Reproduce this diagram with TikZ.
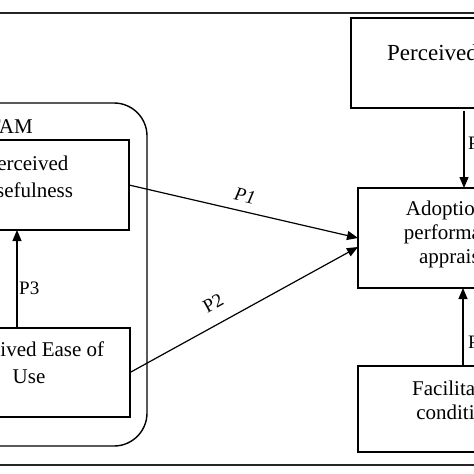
\documentclass[tikz,border=0pt]{standalone}
\usepackage{fontspec}
\setmainfont{Liberation Serif}
\usetikzlibrary{arrows.meta}
\tikzset{
  boxline/.style={draw=black, line width=1.4pt},
  frameline/.style={draw=black!85, line width=1.6pt},
  bx/.style={boxline, rectangle, inner sep=0pt, outer sep=0pt},
  txt/.style={align=center, inner sep=0pt, font=\fontsize{21}{25}\selectfont},
  plab/.style={inner sep=0pt, font=\fontsize{19}{22}\selectfont},
  arr/.style={line width=1.2pt, -{Triangle[length=11pt,width=9pt]}}
}
\begin{document}
\begin{tikzpicture}[x=1pt,y=-1pt]
\useasboundingbox (0,0) rectangle (474,474);
\fill[white] (0,0) rectangle (474,474);
\clip (0,0) rectangle (474,474);
% outer frame
\draw[frameline] (-20,13) rectangle (494,465);
% TAM group
\draw[boxline, rounded corners=33pt] (-95,103) rectangle (147,446);
\node[anchor=east, inner sep=0pt, font=\fontsize{21}{24}\selectfont] (tam) at (33,126.5) {TAM};
% boxes
\node[bx, minimum width=205pt, minimum height=90pt] (pu) at (26.5,185) {};
\node[bx, minimum width=206pt, minimum height=89pt] (pe) at (27,372.5) {};
\node[bx, minimum width=229pt, minimum height=90pt] (pr) at (465.5,63) {};
\node[bx, minimum width=202pt, minimum height=100pt] (ad) at (459,238) {};
\node[bx, minimum width=202pt, minimum height=86pt] (fc) at (459,409) {};
% texts
\node[txt, font=\fontsize{21}{27}\selectfont] (putext) at (27,176.5) {Perceived\\Usefulness};
\node[txt, font=\fontsize{21}{27}\selectfont] (petext) at (29,362.5) {Perceived Ease of\\Use};
\node[txt, anchor=west, font=\fontsize{23}{27}\selectfont] (prtext) at (387,53) {Perceived};
\node[txt, font=\fontsize{21}{24}\selectfont] (adtext) at (457,234) {Adoption of\\performance\\appraisal};
\node[txt, font=\fontsize{21}{24}\selectfont] (fctext) at (460,400) {Facilitating\\conditions};
% helper coordinates
\coordinate (c3) at (17,0);
\coordinate (c4) at (464,0);
\coordinate (c5) at (463,0);
% connectors
\draw[arr] (pe.north -| c3) -- (pu.south -| c3);
\draw[arr] (pu.east) -- (ad.west);
\draw[arr] (pe.east) -- ([yshift=-9pt]ad.west);
\draw[arr, shorten <=3pt] (pr.south -| c4) -- (ad.north -| c4);
\draw[arr] (fc.north -| c5) -- (ad.south -| c5);
% labels
\node[plab, anchor=west] (p3) at (19,288) {P3};
\node[plab, rotate=-12.7, font=\fontsize{19}{22}\selectfont\itshape] (p1) at (245,196) {P1};
\node[plab, rotate=29] (p2) at (213,303) {P2};
\node[plab, anchor=west] (p4) at (468,143) {P4};
\node[plab, anchor=west] (p5) at (468,342) {P5};
\end{tikzpicture}
\end{document}
